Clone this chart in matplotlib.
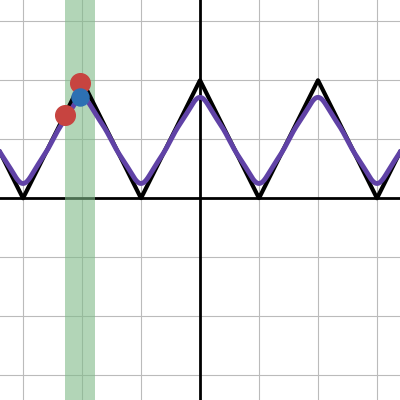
import numpy as np
import matplotlib
matplotlib.use("Agg")
import matplotlib.pyplot as plt

x_range = (-3.39, 3.39)
y_range = (-3.42, 3.36)
band = (-2.29, -1.78)
red_x = [-2.03, -2.29]
red_y = [1.95, 1.41]
blue_x = [-2.03]
blue_y = [1.71]
fourier_coefs = [0.66, 0.05, 0.02]  # cos(pi x), cos(3 pi x), cos(5 pi x)

fig = plt.figure(figsize=(4, 4), dpi=100)
ax = fig.add_axes([0, 0, 1, 1])
ax.set_xlim(*x_range)
ax.set_ylim(*y_range)
for v in range(-3, 4):
    ax.axvline(v, color="#bbbbbb", lw=0.8, zorder=0)
    ax.axhline(v, color="#bbbbbb", lw=0.8, zorder=0)
ax.axhline(0, color="black", lw=2, zorder=1)
ax.axvline(0, color="black", lw=2, zorder=1)
ax.axvspan(*band, color="#7fba88", alpha=0.6, lw=0, zorder=1)

xs = np.linspace(*x_range, 2000)
tri = 2 - 2 * np.abs(((xs + 1) % 2) - 1)
ax.plot(xs, tri, color="black", lw=3, zorder=2)
smooth = 0.98 + sum(c * np.cos((2 * k + 1) * np.pi * xs) for k, c in enumerate(fourier_coefs))
ax.plot(xs, smooth, color="#6042a6", lw=3.5, zorder=3)

ax.scatter(red_x, red_y, s=200, color="#c74440", zorder=4)
ax.scatter(blue_x, blue_y, s=150, color="#2d70b3", zorder=5)
ax.axis("off")
fig.savefig("out.png", dpi=100)
